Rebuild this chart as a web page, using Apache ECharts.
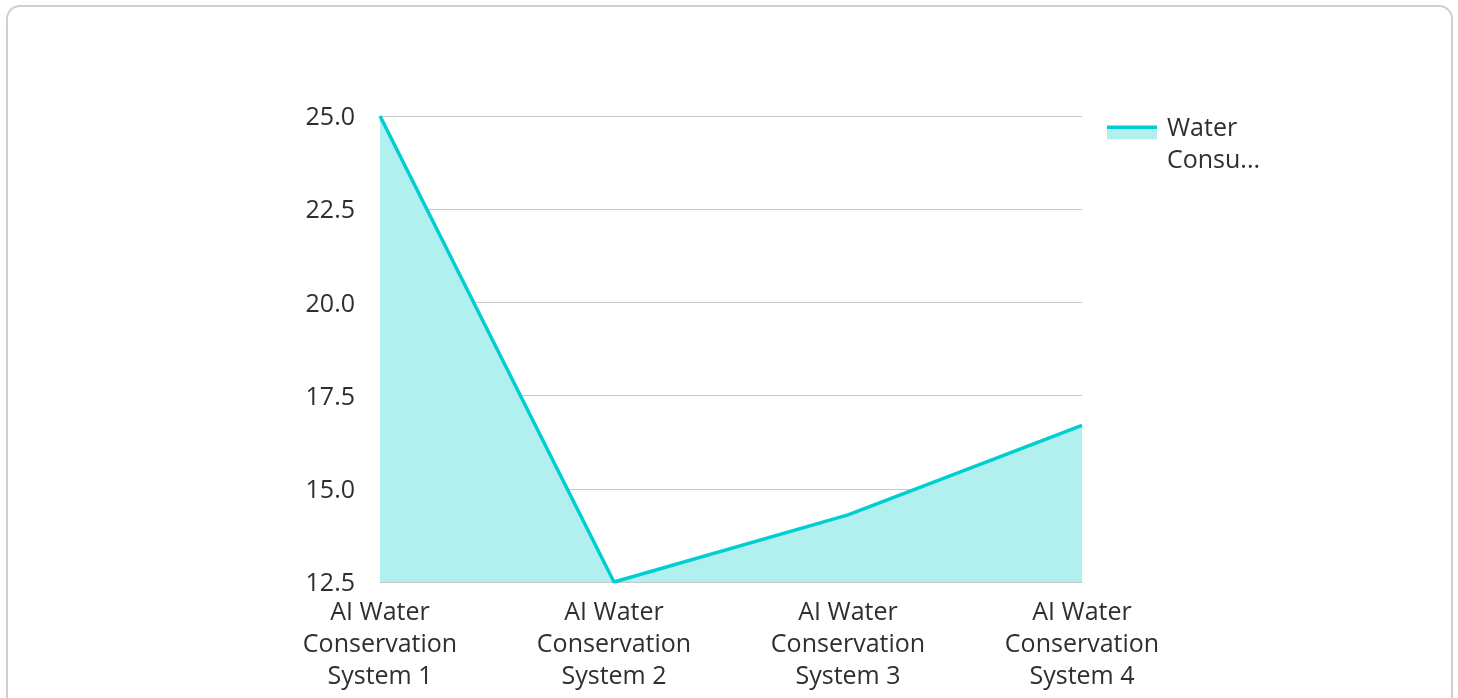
<!DOCTYPE html>
<html>
<head>
<meta charset="utf-8">
<script src="https://cdn.jsdelivr.net/npm/echarts@6/dist/echarts.min.js"></script>
<style>
html,body{margin:0;padding:0;background:#fff;}
#card{position:absolute;left:6px;top:5px;width:1447px;height:730px;border:2px solid #d0d0d0;border-radius:14px;box-sizing:border-box;}
#chart{position:absolute;left:0;top:0;width:1458px;height:698px;}
</style>
</head>
<body>
<div id="card"></div>
<div id="chart"></div>
<script>
const categories = ['AI Water Conservation System 1','AI Water Conservation System 2','AI Water Conservation System 3','AI Water Conservation System 4'];
const seriesName = 'Water Consumption (liters)';
const waterValues = [25.0, 12.5, 14.3, 16.7];
const yTicks = {min: 12.5, max: 25, interval: 2.5};

const FONT = '"Open Sans", "Noto Sans", sans-serif';
const TXT = '#2f2f2f';
const chart = echarts.init(document.getElementById('chart'), null, {renderer:'canvas'});
chart.setOption({
  animation: false,
  backgroundColor: 'transparent',
  grid: {left: 380, right: 376, top: 116, bottom: 116, containLabel: false},
  legend: {
    show: true,
    left: 1107,
    top: 88,
    padding: 0,
    orient: 'vertical',
    itemWidth: 50,
    itemHeight: 14,
    itemGap: 10,
    icon: 'rect',
    formatter: function(name){ return '{e| }\n{t|Water}\n{t|Consu...}'; },
    itemStyle: {
      color: new echarts.graphic.LinearGradient(0,0,0,1,[
        {offset:0,color:'#00ced1'},{offset:0.25,color:'#00ced1'},
        {offset:0.25,color:'#b2f0f0'},{offset:1,color:'#b2f0f0'}
      ]),
      borderWidth: 0
    },
    textStyle: {
      fontFamily: FONT, fontSize: 25, lineHeight: 32, color: TXT,
      rich: {
        e: {fontSize: 1, lineHeight: 25},
        t: {fontFamily: FONT, fontSize: 25, lineHeight: 32, color: TXT, padding: [0,0,0,5]}
      }
    }
  },
  xAxis: {
    type: 'category',
    data: categories,
    boundaryGap: false,
    axisLine: {show: true, lineStyle: {color: '#c8c8c8', width: 1}},
    axisTick: {show: false},
    axisLabel: {
      fontFamily: FONT, fontSize: 25, lineHeight: 32, color: TXT, margin: 15,
      interval: 0,
      formatter: function(v){ return v.replace('AI Water Conservation System ', 'AI Water\nConservation\nSystem '); }
    },
    splitLine: {show: false}
  },
  yAxis: {
    type: 'value',
    min: yTicks.min, max: yTicks.max, interval: yTicks.interval,
    axisLine: {show: false},
    axisTick: {show: false},
    axisLabel: {
      fontFamily: FONT, fontSize: 25, color: TXT, margin: 25,
      formatter: function(v){ return '{v|' + v.toFixed(1) + '}'; },
      rich: {v: {fontFamily: FONT, fontSize: 25, color: TXT, padding: [4,0,0,0]}}
    },
    splitLine: {show: true, lineStyle: {color: '#c8c8c8', width: 1}}
  },
  series: [{
    name: seriesName,
    type: 'line',
    data: waterValues,
    showSymbol: false,
    symbol: 'none',
    lineStyle: {color: '#00ced1', width: 3.5},
    itemStyle: {color: '#00ced1'},
    areaStyle: {color: '#b2f0f0', opacity: 1, origin: 'start'}
  }]
});
</script>
</body>
</html>
